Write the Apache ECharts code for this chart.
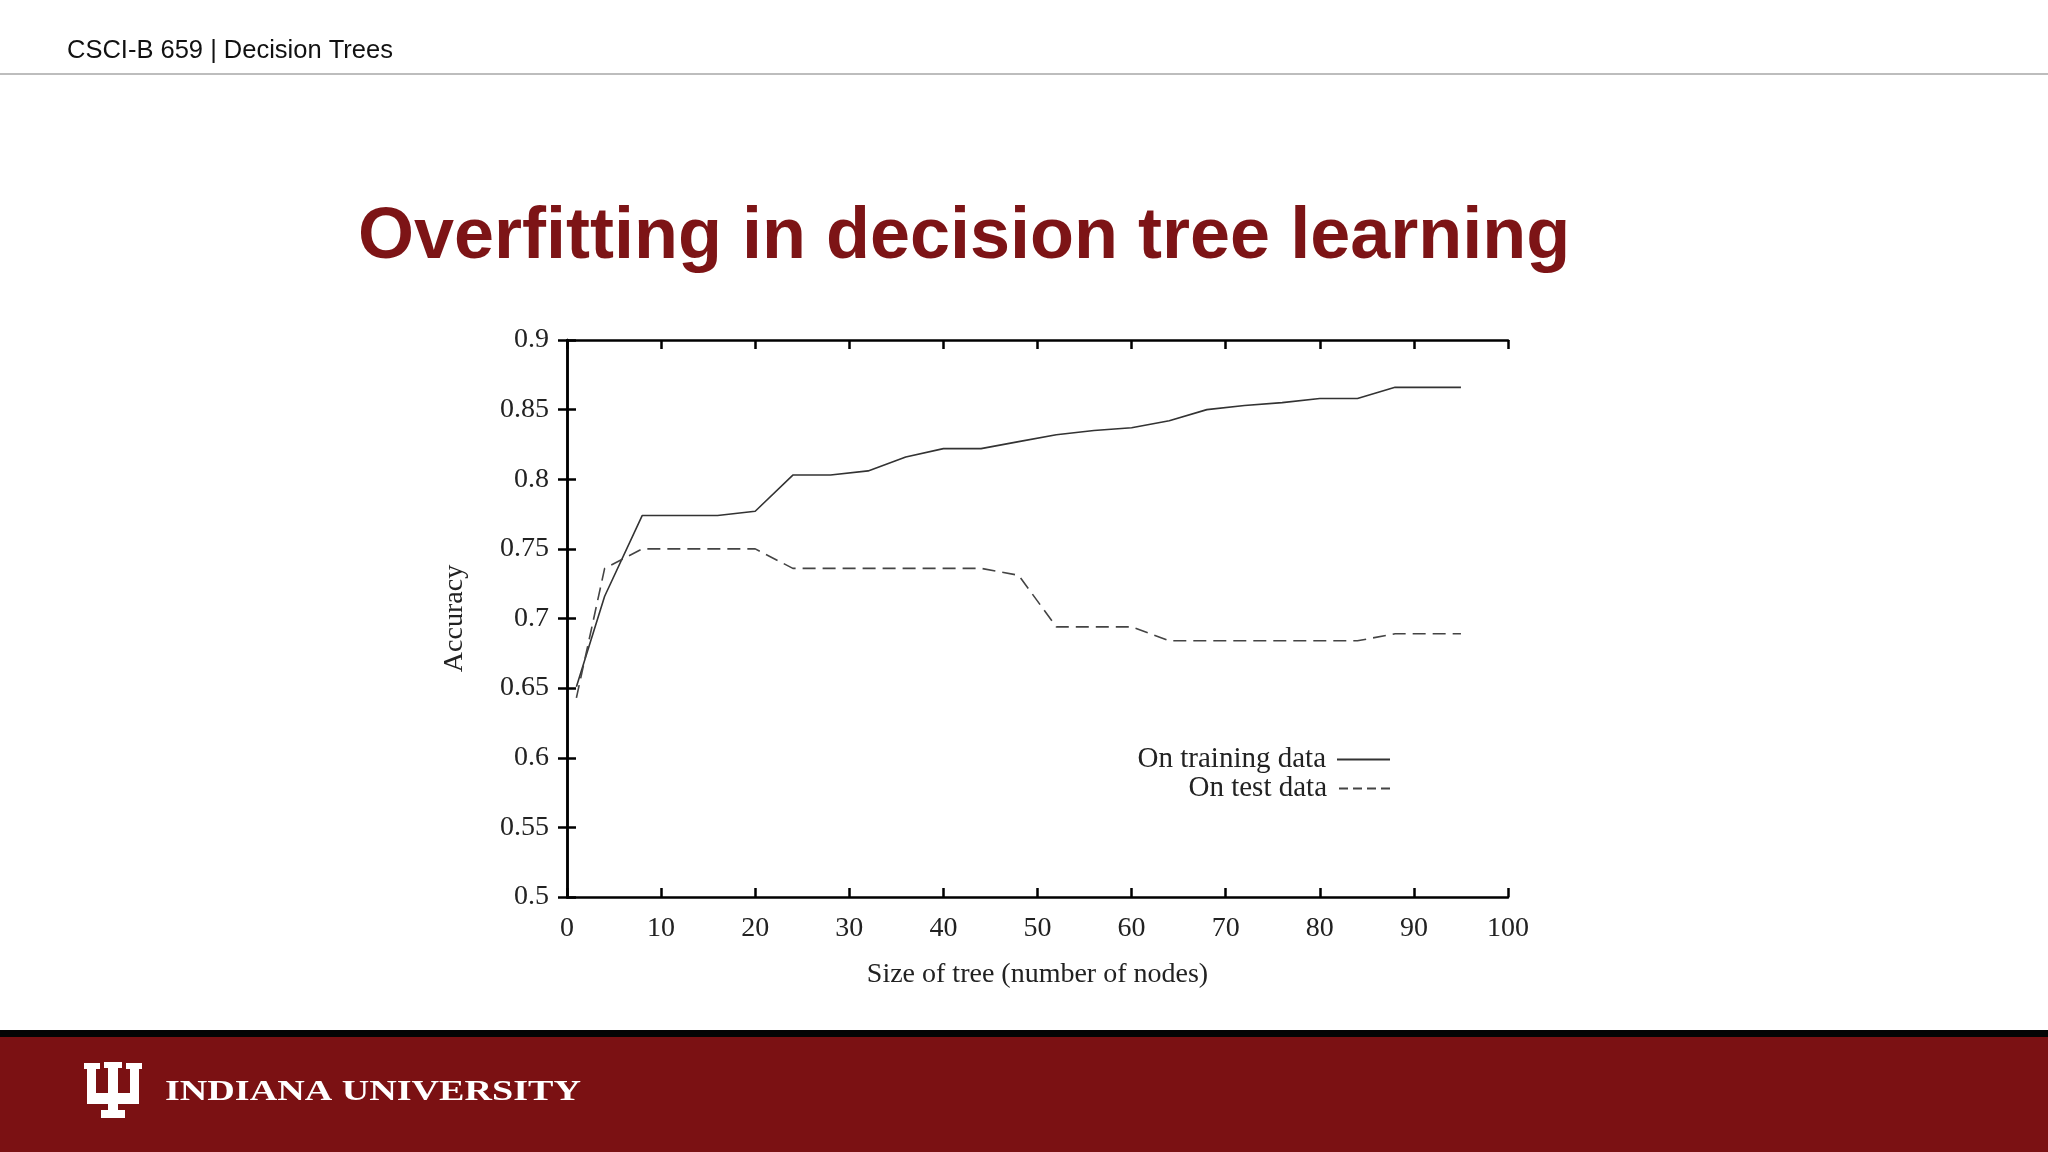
<!DOCTYPE html>
<html>
<head>
<meta charset="utf-8">
<style>
  html, body { margin: 0; padding: 0; background: #fff; }
  #chart { width: 2048px; height: 1152px; }
</style>
<script src="https://cdn.jsdelivr.net/npm/echarts@6/dist/echarts.min.js"></script>
</head>
<body>
<div id="chart"></div>
<script>
// tree size (number of nodes) and accuracy readings
const treeSizes = [1, 4, 8, 12, 16, 20, 24, 28, 32, 36, 40, 44, 48, 52, 56, 60, 64, 68, 72, 76, 80, 84, 88, 92, 95];
const trainAcc = [0.651, 0.716, 0.774, 0.774, 0.774, 0.777, 0.803, 0.803, 0.806, 0.816, 0.822, 0.822, 0.827,
  0.832, 0.835, 0.837, 0.842, 0.850, 0.853, 0.855, 0.858, 0.858, 0.866, 0.866, 0.866];
const testAcc = [0.643, 0.736, 0.750, 0.750, 0.750, 0.750, 0.736, 0.736, 0.736, 0.736, 0.736, 0.736, 0.731,
  0.694, 0.694, 0.694, 0.684, 0.684, 0.684, 0.684, 0.684, 0.684, 0.689, 0.689, 0.689];
const seriesNames = ["On training data", "On test data"];

const SERIF = "'Liberation Serif', 'DejaVu Serif', serif";
const SANS = "'Liberation Sans', Arial, sans-serif";
const IU_RED = "#7B1113";
const INK = "#222";

const chart = echarts.init(document.getElementById("chart"));

const frameAxis = {
  axisLine: { show: true, lineStyle: { color: "#000", width: 2.5 } },
  axisTick: { show: true, inside: true, length: 9, lineStyle: { color: "#000", width: 2.5 } },
  splitLine: { show: false },
};

// legend samples: a solid bar and a row of dashes
const solidIcon = "path://M0,0h53v2h-53z";
const dashIcon = "path://M0,0h9v2h-9z M14,0h9v2h-9z M28,0h9v2h-9z M42,0h9v2h-9z";

function legendFor(name, icon, top) {
  return {
    data: [{ name, icon }],
    right: 658, top, padding: 0, align: "right", orient: "vertical",
    itemWidth: 53, itemHeight: 2,
    textStyle: { fontFamily: SERIF, fontSize: 29, color: INK, padding: [0, 6, 0, 0] },
    selectedMode: false,
  };
}

// IU trident, drawn as a few white blocks
const logoParts = [
  [87, 1066, 9, 34], [84, 1063, 16, 6],
  [130, 1066, 9, 34], [126, 1063, 16, 6],
  [87, 1093, 52, 11],
  [108, 1063, 10, 51], [104, 1062, 18, 6],
  [101, 1110, 24, 8],
].map(([x, y, w, h]) => ({
  type: "rect",
  shape: { x, y, width: w, height: h },
  style: { fill: "#fff" },
  silent: true,
}));

chart.setOption({
  backgroundColor: "#fff",
  animation: false,
  grid: { left: 567, right: 540, top: 340, bottom: 255, containLabel: false },
  xAxis: [
    {
      type: "value", min: 0, max: 100, interval: 10, position: "bottom",
      ...frameAxis,
      axisLabel: { fontFamily: SERIF, fontSize: 28, color: INK, margin: 18 },
      name: "Size of tree (number of nodes)",
      nameLocation: "middle",
      nameGap: 64,
      nameTextStyle: { fontFamily: SERIF, fontSize: 28, color: INK },
    },
    {
      type: "value", min: 0, max: 100, interval: 10, position: "top",
      ...frameAxis,
      axisLabel: { show: false },
    },
  ],
  yAxis: [
    {
      type: "value", min: 0.5, max: 0.9, interval: 0.05, position: "left",
      ...frameAxis,
      axisLabel: {
        fontFamily: SERIF, fontSize: 28, color: INK, margin: 18,
        formatter: (v) => String(+v.toFixed(2)),
      },
      name: "Accuracy",
      nameLocation: "middle",
      nameRotate: 90,
      nameGap: 98,
      nameTextStyle: { fontFamily: SERIF, fontSize: 28, color: INK },
    },
    {
      type: "value", min: 0.5, max: 0.9, interval: 0.05, position: "right",
      ...frameAxis,
      axisLabel: { show: false },
    },
  ],
  legend: [
    legendFor(seriesNames[0], solidIcon, 745),
    legendFor(seriesNames[1], dashIcon, 774),
  ],
  series: [
    {
      name: seriesNames[0],
      type: "line",
      data: treeSizes.map((x, i) => [x, trainAcc[i]]),
      symbol: "none",
      lineStyle: { color: "#333", width: 1.6, type: "solid" },
      itemStyle: { color: "#333" },
    },
    {
      name: seriesNames[1],
      type: "line",
      data: treeSizes.map((x, i) => [x, testAcc[i]]),
      symbol: "none",
      lineStyle: { color: "#444", width: 1.6, type: [13, 7] },
      itemStyle: { color: "#444" },
    },
  ],
  graphic: [
    {
      type: "text", x: 67, y: 51, silent: true,
      style: { text: "CSCI-B 659 | Decision Trees", font: `25.5px ${SANS}`, fill: "#111", verticalAlign: "middle" },
    },
    {
      type: "rect", silent: true,
      shape: { x: 0, y: 73, width: 2048, height: 2 },
      style: { fill: "#BDBDBD" },
    },
    {
      type: "text", x: 358, y: 238, silent: true,
      style: {
        text: "Overfitting in decision tree learning",
        font: `bold 72px ${SANS}`, fill: "#7D1416", verticalAlign: "middle",
      },
    },
    {
      type: "rect", silent: true,
      shape: { x: 0, y: 1030, width: 2048, height: 8 },
      style: { fill: "#050505" },
    },
    {
      type: "rect", silent: true,
      shape: { x: 0, y: 1037, width: 2048, height: 115 },
      style: { fill: IU_RED },
    },
    ...logoParts,
    {
      type: "text", x: 165, y: 1092, scaleX: 1.27, silent: true,
      style: { text: "INDIANA UNIVERSITY", font: `bold 30px ${SERIF}`, fill: "#fff", verticalAlign: "middle" },
    },
  ],
});

window.addEventListener("resize", () => chart.resize());
</script>
</body>
</html>
